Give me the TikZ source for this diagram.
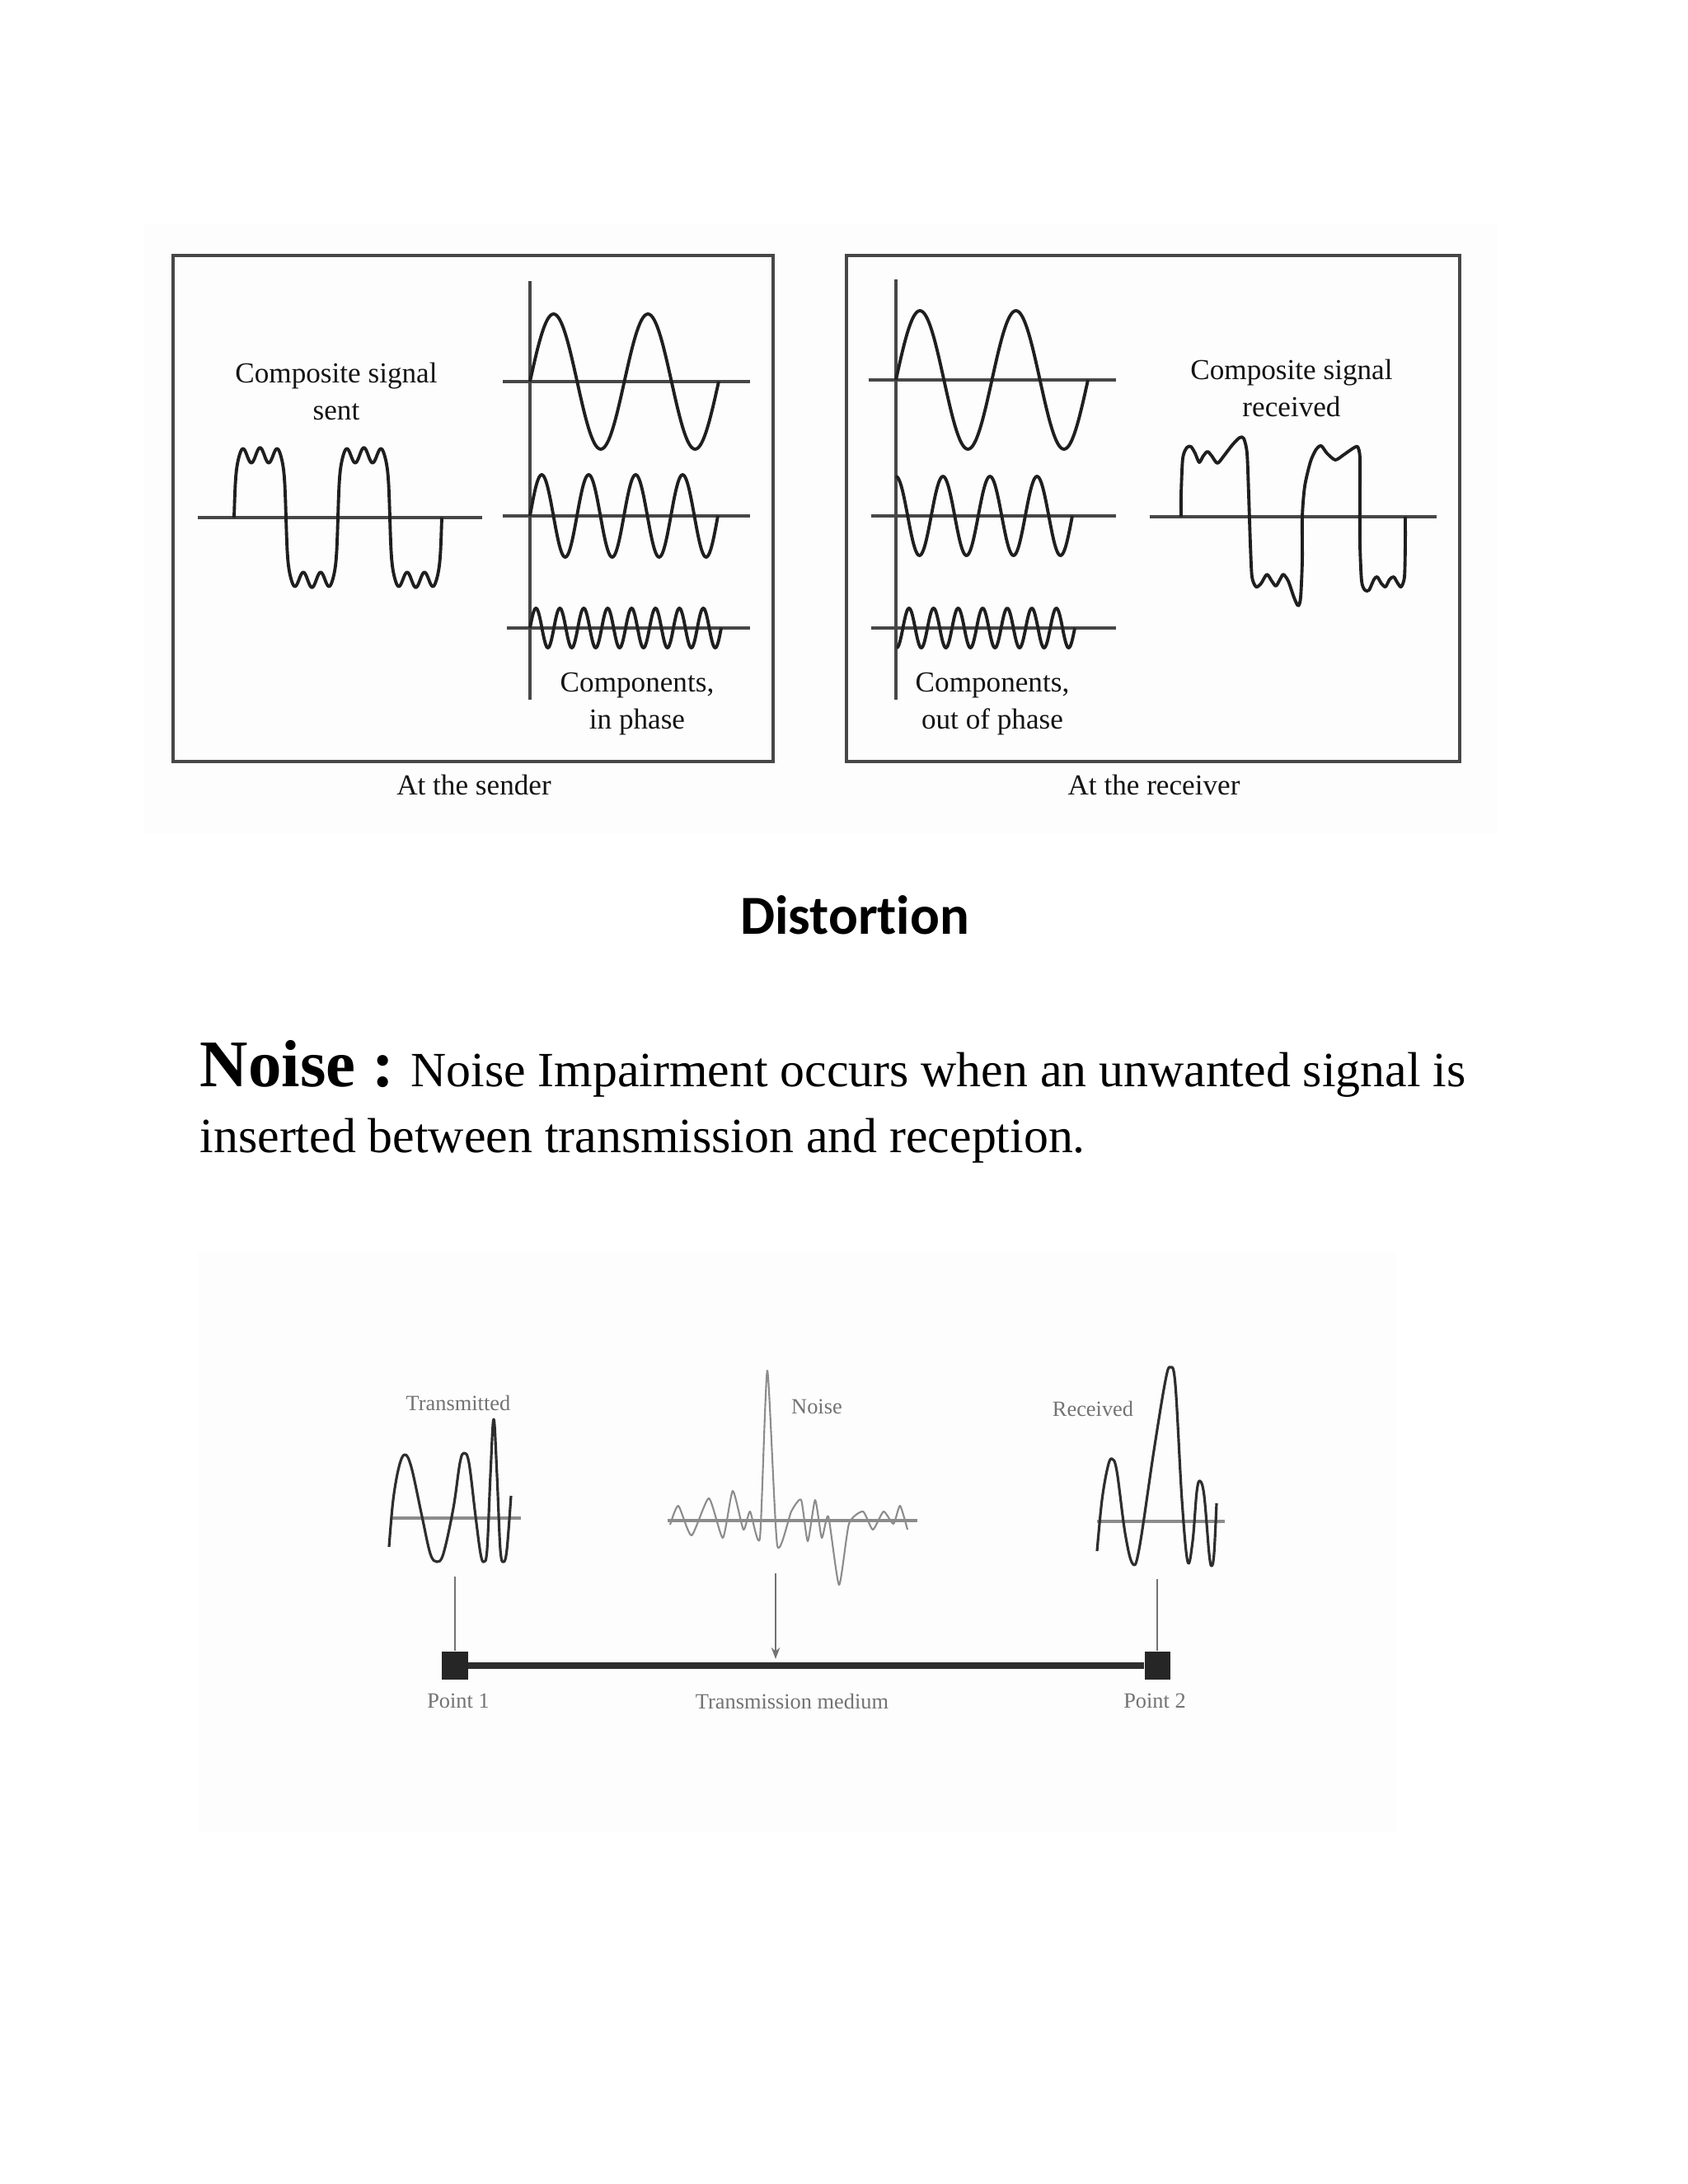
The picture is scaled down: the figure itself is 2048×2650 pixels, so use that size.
\documentclass[tikz,border=0pt]{standalone}
\usepackage{fontspec}
\setmainfont{Liberation Serif}
\newfontfamily\headfont[Ligatures=NoCommon]{Carlito}
\usetikzlibrary{arrows.meta}

\begin{document}
\begin{tikzpicture}[
  x=0.01cm, y=-0.01cm,
  bgshade/.style={fill=black!0.8, draw=none},
  panelbox/.style={draw=black!72, line width=1.1pt},
  axisline/.style={draw=black!72, line width=1pt},
  wavepath/.style={draw=black!88, line width=1.1pt, line join=round},
  figtext/.style={font=\fontsize{10}{13}\selectfont, align=center, text=black!92, inner sep=0pt},
  figcaption/.style={font=\fontsize{10}{12}\selectfont, text=black!92, inner sep=0pt},
  tagtext/.style={font=\fontsize{7.5}{9}\selectfont, text=black!55, inner sep=0pt},
  lowaxis/.style={draw=black!45, line width=0.9pt},
  lowwave/.style={draw=black!82, line width=0.9pt, line join=round},
  noisewave/.style={draw=black!45, line width=0.6pt, line join=round},
  feedline/.style={draw=black!55, line width=0.45pt},
  station/.style={fill=black!85, minimum width=0.31cm, minimum height=0.34cm, inner sep=0pt},
  mediumline/.style={draw=black!82, line width=2.3pt}
]
\useasboundingbox (0,0) rectangle (2048,2650);

\fill[bgshade] (175,272) rectangle (1817,1012);
\fill[bgshade] (240,1520) rectangle (1695,2223);

% at the sender
\draw[panelbox] (210,310) rectangle (938,924);
\node[figtext] (sentlabel) at (408,475) {Composite signal\\sent};
\draw[axisline] (240,628) -- (585,628);
\draw[wavepath] plot[domain=0:720, samples=361]
  ({284+\x*0.35}, {628-76*sin(\x)/sqrt(sin(\x)*sin(\x)+0.01)*(1-0.12*cos(6*\x))});

\draw[axisline] (643,341) -- (643,849);
\draw[axisline] (610,463) -- (910,463);
\draw[axisline] (610,626) -- (910,626);
\draw[axisline] (615,762) -- (910,762);
\draw[wavepath] plot[domain=0:720, samples=121] ({643+\x*0.318}, {463-82*sin(\x)});
\draw[wavepath] plot[domain=0:1440, samples=161] ({643+\x*0.1583}, {626-50*sin(\x)});
\draw[wavepath] plot[domain=0:2880, samples=241] ({643+\x*0.08056}, {762-24*sin(\x)});
\node[figtext] (inphase) at (773,854) {Components,\\in phase};
\node[figcaption] (sender) at (575,952) {At the sender};

% at the receiver
\draw[panelbox] (1027,310) rectangle (1771,924);
\draw[axisline] (1087,339) -- (1087,849);
\draw[axisline] (1054,461) -- (1354,461);
\draw[axisline] (1057,626) -- (1354,626);
\draw[axisline] (1057,762) -- (1354,762);
\draw[wavepath] plot[domain=0:720, samples=121] ({1087+\x*0.3236}, {461-84*sin(\x)});
\draw[wavepath] plot[domain=0:1350, samples=161] ({1087+\x*0.1585}, {626-48*cos(\x)});
\draw[wavepath] plot[domain=0:2610, samples=241] ({1088+\x*0.08276}, {762+24*cos(\x)});
\node[figtext] (outphase) at (1204,854) {Components,\\out of phase};

\node[figtext] (recvlabel) at (1567,471) {Composite signal\\received};
\draw[axisline] (1395,627) -- (1743,627);
\draw[wavepath] plot[smooth, tension=0.45] coordinates {
  (1433,627) (1433,600) (1435,556) (1440,543) (1445,542) (1450,550) (1455,561)
  (1460,553) (1465,548) (1470,553) (1477,562) (1485,553) (1495,540) (1504,531)
  (1509,532) (1513,550) (1515,600) (1517,660) (1519,700) (1524,712) (1530,708)
  (1537,697) (1543,705) (1548,711) (1553,703) (1557,697) (1563,705) (1570,725)
  (1575,735) (1578,725) (1580,680) (1580,627) (1583,590) (1590,560) (1597,545)
  (1603,541) (1610,550) (1620,558) (1630,552) (1640,545) (1647,542) (1650,555)
  (1650,600) (1650,660) (1652,705) (1656,716) (1661,716) (1667,703) (1671,700)
  (1676,708) (1681,712) (1686,703) (1691,700) (1696,708) (1700,712) (1704,700)
  (1705,660) (1705,627)};
\node[figcaption] (receiver) at (1400,952) {At the receiver};

\node[anchor=base, font=\headfont\bfseries\fontsize{19}{23}\selectfont, inner sep=0pt]
  (distortion) at (1037,1133) {Distortion};

\node[anchor=base west, inner sep=0pt, font=\fontsize{17}{23}\selectfont] (noiseline1) at (242,1318)
  {{\fontsize{23}{23}\selectfont\bfseries Noise :} Noise Impairment occurs when an unwanted signal is};
\node[anchor=base west, inner sep=0pt, font=\fontsize{17}{23}\selectfont] (noiseline2) at (242,1398)
  {inserted between transmission and reception.};

% noise on the medium
\node[tagtext] (txlabel) at (556,1702) {Transmitted};
\draw[lowaxis] (474,1842) -- (632,1842);
\draw[lowwave] plot[smooth, tension=0.6] coordinates {
  (472,1877) (477,1820) (484,1780) (491,1765) (499,1780) (512,1840) (522,1885)
  (530,1895) (538,1885) (550,1830) (558,1775) (563,1763) (569,1775) (577,1840)
  (583,1885) (587,1895) (591,1880) (595,1790) (599,1722) (603,1790) (607,1880)
  (611,1895) (615,1880) (620,1815)};

\node[tagtext] (noiselabel) at (991,1707) {Noise};
\draw[lowaxis] (810,1845) -- (1113,1845);
\draw[noisewave] plot[smooth, tension=0.35] coordinates {
  (813,1850) (823,1827) (839,1863) (860,1818) (877,1866) (889,1809) (902,1856)
  (910,1834) (922,1866) (931,1663) (943,1875) (960,1834) (972,1820) (980,1870)
  (989,1820) (997,1866) (1005,1840) (1018,1923) (1030,1849) (1047,1834)
  (1059,1856) (1072,1834) (1084,1849) (1092,1827) (1101,1856)};

\node[tagtext] (rxlabel) at (1326,1709) {Received};
\draw[lowaxis] (1331,1846) -- (1486,1846);
\draw[lowwave] plot[smooth, tension=0.6] coordinates {
  (1331,1882) (1337,1820) (1344,1780) (1349,1770) (1355,1785) (1365,1860)
  (1374,1897) (1382,1880) (1400,1760) (1414,1675) (1420,1659) (1426,1680)
  (1434,1820) (1441,1895) (1447,1870) (1452,1810) (1456,1797) (1461,1815)
  (1467,1885) (1470,1900) (1473,1885) (1476,1824)};

\node[station] (point1) at (552,2021) {};
\node[station] (point2) at (1404,2021) {};
\draw[mediumline] (point1) -- (point2);
\coordinate (txfoot) at (552,1913);
\coordinate (noisefoot) at (941,1909);
\coordinate (hit) at (941,2013);
\coordinate (rxfoot) at (1404,1916);
\draw[feedline] (txfoot) -- (point1);
\draw[feedline, -{Stealth[length=4pt, width=3pt]}] (noisefoot) -- (hit);
\draw[feedline] (rxfoot) -- (point2);
\node[tagtext] (p1label) at (556,2064) {Point 1};
\node[tagtext] (mediumlabel) at (961,2064) {Transmission medium};
\node[tagtext] (p2label) at (1401,2064) {Point 2};

\end{tikzpicture}
\end{document}
